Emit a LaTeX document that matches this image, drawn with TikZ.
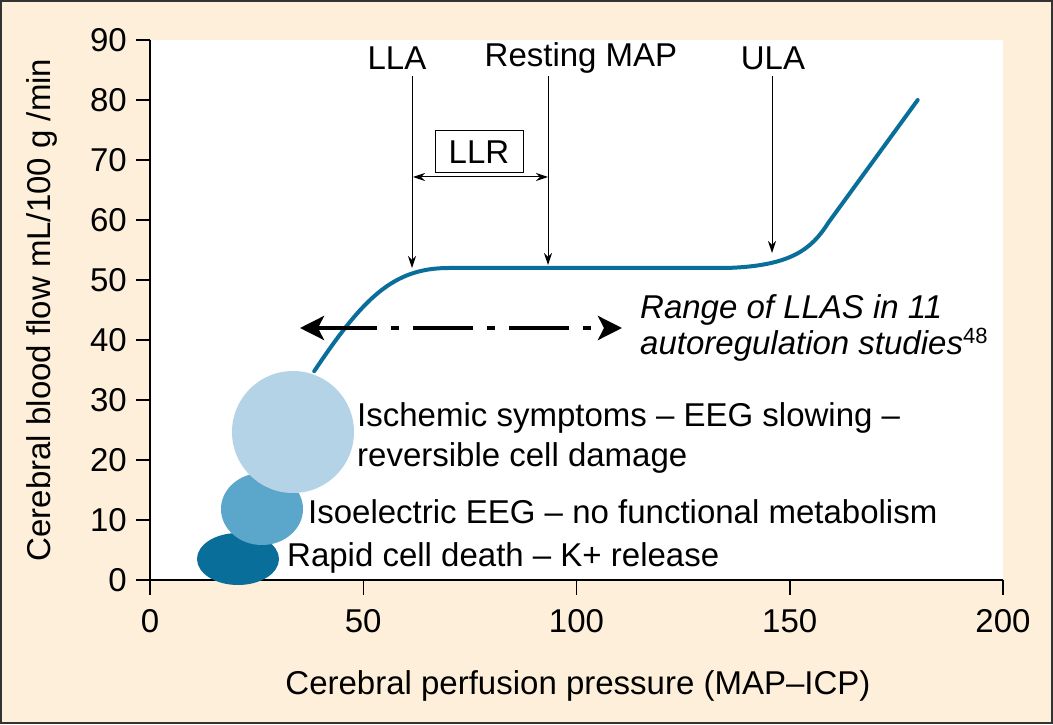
\documentclass[tikz,border=0pt]{standalone}
\usepackage{fontspec}
\setmainfont{Liberation Sans}
\usetikzlibrary{arrows.meta}
\definecolor{beige}{HTML}{FDEFD9}
\definecolor{curve}{HTML}{0A6E9A}
\definecolor{lightc}{HTML}{B5D3E7}
\definecolor{midc}{HTML}{5BA6CB}
\begin{document}
\begin{tikzpicture}[x=1pt,y=1pt,
  lab/.style={inner sep=0pt,font=\fontsize{33}{38}\selectfont},
  tick/.style={line width=1.5pt},
  ann/.style={-{Stealth[length=12pt,width=8pt]},line width=1pt}]
\useasboundingbox (0,0) rectangle (1053,724);
\fill[beige] (0,0) rectangle (1053,724);
\draw[line width=2pt,black!80] (1,1) rectangle (1052,723);
\fill[white] (150,144) rectangle (1003,684);
% axes
\draw[line width=2.5pt] (150,684) -- (150,144) -- (1003,144);
\foreach \v in {0,10,...,90}{
  \draw[tick] (136,144+6*\v) -- (150,144+6*\v);
  \node[lab,anchor=east] (yt\v) at (127,144+6*\v) {\v};}
\foreach \v in {0,50,100,150,200}{
  \draw[tick] (150+4.265*\v,144) -- (150+4.265*\v,129);
  \node[lab,anchor=north] (xt\v) at (150+4.265*\v,115) {\v};}
\node[lab,rotate=90] (ylab) at (42,414) {Cerebral blood flow mL/100 g /min};
\node[lab] (xlab) at (578,38) {Cerebral perfusion pressure (MAP–ICP)};
% blobs
\fill[curve] (238,165) ellipse (41 and 26);
\fill[midc] (262,215) ellipse (41 and 36);
\fill[lightc] (293,292) circle (61);
% curve
\begin{scope}[shift={(150,144)},xscale=4.265,yscale=6]
\draw[curve,line width=4pt,line cap=round]
 (38.5,34.8) .. controls (50,47) and (57,52) .. (70,52) -- (135,52)
 .. controls (150,52.3) and (155,55) .. (159,59.5) -- (180,80);
\end{scope}
% annotations
\node[lab] (lla) at (397,666) {LLA};
\node[lab] (map) at (581,666) {Resting MAP};
\node[lab] (ula) at (773,666) {ULA};
\coordinate (llaT) at (412,456);
\coordinate (mapT) at (548,459);
\coordinate (ulaT) at (772,471);
\draw[ann] (412,648) -- (llaT);
\draw[ann] (548,648) -- (mapT);
\draw[ann] (772,648) -- (ulaT);
\node[lab,draw,line width=1pt,minimum width=88pt,minimum height=42pt] (llr) at (479,572) {LLR};
\coordinate (llrL) at (413,547);
\coordinate (llrR) at (548,547);
\draw[{Stealth[length=12pt,width=8pt]}-{Stealth[length=12pt,width=8pt]},line width=1pt] (llrL) -- (llrR);
\coordinate (rL) at (300,396);
\coordinate (rR) at (622,396);
\draw[{Stealth[length=24pt,width=24pt,inset=6pt]}-{Stealth[length=24pt,width=24pt,inset=6pt]},line width=4pt,dash pattern=on 60pt off 14pt on 8pt off 14pt] (rL) -- (rR);
\node[lab,anchor=west,align=left,font=\fontsize{33}{36}\selectfont\itshape] (range) at (640,396) {Range of LLAS in 11\\autoregulation studies\raisebox{11pt}{\upshape\fontsize{22}{24}\selectfont 48}};
\node[lab,anchor=west,align=left,font=\fontsize{33}{40}\selectfont] (isch) at (357,286) {Ischemic symptoms – EEG slowing –\\reversible cell damage};
\node[lab,anchor=west] (iso) at (308,212) {Isoelectric EEG – no functional metabolism};
\node[lab,anchor=west] (rap) at (287,166) {Rapid cell death – K+ release};
\end{tikzpicture}
\end{document}
